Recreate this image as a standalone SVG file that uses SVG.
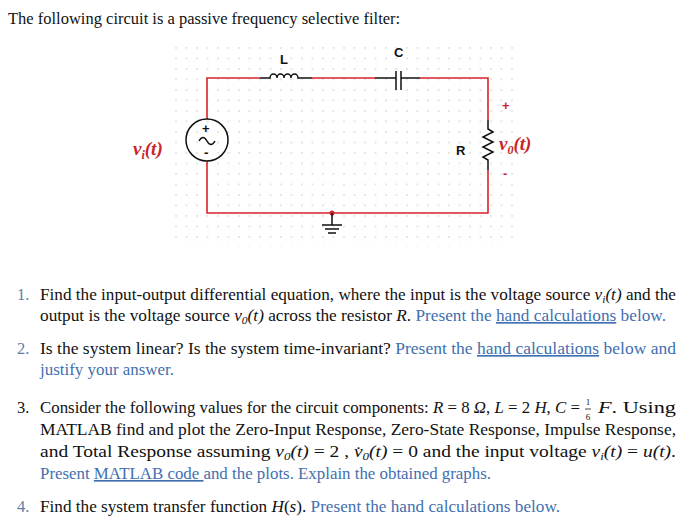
<svg xmlns="http://www.w3.org/2000/svg" width="700" height="524" viewBox="0 0 700 524">
<defs>
<pattern id="dots" x="175" y="47" width="10.5" height="10.5" patternUnits="userSpaceOnUse"><circle cx="1" cy="1" r="0.7" fill="#bbb"/></pattern>
</defs>
<style>
.t{font-family:"Liberation Serif",serif;font-size:16.5px;fill:#111}
.b{fill:#3f6fb0}
.n{font-family:"Liberation Serif",serif;font-size:16.5px;fill:#5f7fa8}
.w{stroke:#d8232a;stroke-width:1.6;fill:none}
.k{stroke:#111;stroke-width:1.5;fill:none}
.lab{font-family:"Liberation Sans",sans-serif;font-size:13px;font-weight:bold;fill:#111}
.rl{font-family:"Liberation Serif",serif;font-size:19px;font-weight:bold;font-style:italic;fill:#c8242a}
.fr{font-family:"Liberation Serif",serif;font-size:9px;fill:#111}
</style>
<rect width="700" height="524" fill="#fff"/>
<text class="t" x="8" y="24">The following circuit is a passive frequency selective filter:</text>
<rect x="175" y="47" width="340" height="200" fill="url(#dots)"/>
<g id="wires">
<path class="w" d="M207,119 V78 H260 M312,78 H375 M420,78 H488 V120 M488,170 V213 H207 V161"/>
</g>
<g id="source"><circle class="k" cx="207" cy="140" r="21"/><text class="lab" x="202" y="133" font-size="12">+</text><text class="lab" x="204" y="157" font-size="12">-</text><path class="k" d="M199,141 q4,-7 8,0 t8,0"/><text class="rl" x="133" y="155">v<tspan font-size="12" dy="4">i</tspan><tspan dy="-4">(t)</tspan></text></g>
<g id="inductor"><path class="k" d="M260,78 H270 a3.5,4 0 0 1 7,0 a3.5,4 0 0 1 7,0 a3.5,4 0 0 1 7,0 a3.5,4 0 0 1 7,0 H312"/><text class="lab" x="280" y="64">L</text></g>
<g id="capacitor"><path class="k" d="M375,78 H396 M396,71 V90 M401,71 V90 M401,78 H420"/><text class="lab" x="394" y="57">C</text></g>
<g id="resistor"><path class="k" d="M488,120 V129 l5,3 l-10,5 l10,5 l-10,5 l10,5 l-10,5 l5,3 V170"/><text class="lab" x="456" y="155">R</text><text class="lab" x="502" y="110" style="fill:#c8242a">+</text><text class="lab" x="503" y="178" style="fill:#c8242a">-</text><text class="rl" x="499" y="150">v<tspan font-size="12" dy="4">0</tspan><tspan dy="-4">(t)</tspan></text></g>
<g id="ground"><circle cx="332" cy="213" r="2.5" fill="#d8232a"/><path class="k" d="M332,213 V225 M322,225 H342 M325,229 H339 M328,233 H336"/></g>
<text class="n" x="17" y="300">1.</text>
<text class="t" x="40" y="300" textLength="636" lengthAdjust="spacingAndGlyphs">Find the input-output differential equation, where the input is the voltage source <tspan font-style="italic">v<tspan font-size="11" dy="3">i</tspan><tspan dy="-3">(t)</tspan></tspan> and the</text>
<text class="t" x="40" y="321" textLength="626" lengthAdjust="spacingAndGlyphs">output is the voltage source <tspan font-style="italic">v<tspan font-size="11" dy="3">0</tspan><tspan dy="-3">(t)</tspan></tspan> across the resistor <tspan font-style="italic">R</tspan>. <tspan class="b">Present the <tspan text-decoration="underline">hand calculations</tspan> below.</tspan></text>
<text class="n" x="17" y="354">2.</text>
<text class="t" x="40" y="354" textLength="636" lengthAdjust="spacingAndGlyphs">Is the system linear? Is the system time-invariant? <tspan class="b">Present the <tspan text-decoration="underline">hand calculations</tspan> below and</tspan></text>
<text class="t b" x="40" y="375" textLength="134" lengthAdjust="spacingAndGlyphs">justify your answer.</text>
<text class="t" x="17" y="413">3.</text>
<text class="t" x="40" y="413" textLength="540" lengthAdjust="spacingAndGlyphs">Consider the following values for the circuit components: <tspan font-style="italic">R</tspan> = 8 <tspan font-style="italic">Ω</tspan>, <tspan font-style="italic">L</tspan> = 2 <tspan font-style="italic">H</tspan>, <tspan font-style="italic">C</tspan> =</text>
<text class="fr" x="588" y="405" text-anchor="middle">1</text>
<line x1="585" y1="409" x2="591" y2="409" stroke="#111" stroke-width="0.8"/>
<text class="fr" x="588" y="420" text-anchor="middle">6</text>
<text class="t" x="598" y="413" textLength="78" lengthAdjust="spacingAndGlyphs"><tspan font-style="italic">F</tspan>. Using</text>
<text class="t" x="40" y="435" textLength="636" lengthAdjust="spacingAndGlyphs">MATLAB find and plot the Zero-Input Response, Zero-State Response, Impulse Response,</text>
<text class="t" x="40" y="457" textLength="636" lengthAdjust="spacingAndGlyphs">and Total Response assuming <tspan font-style="italic">v<tspan font-size="11" dy="3">0</tspan><tspan dy="-3">(t)</tspan></tspan> = 2 , <tspan font-style="italic">v̇<tspan font-size="11" dy="3">0</tspan><tspan dy="-3">(t)</tspan></tspan> = 0 and the input voltage <tspan font-style="italic">v<tspan font-size="11" dy="3">i</tspan><tspan dy="-3">(t)</tspan></tspan> = <tspan font-style="italic">u(t)</tspan>.</text>
<text class="t b" x="40" y="479" textLength="451" lengthAdjust="spacingAndGlyphs">Present <tspan text-decoration="underline">MATLAB code </tspan>and the plots. Explain the obtained graphs.</text>
<text class="n" x="17" y="512">4.</text>
<text class="t" x="40" y="512" textLength="520" lengthAdjust="spacingAndGlyphs">Find the system transfer function <tspan font-style="italic">H</tspan>(<tspan font-style="italic">s</tspan>). <tspan class="b">Present the hand calculations below.</tspan></text>
</svg>
